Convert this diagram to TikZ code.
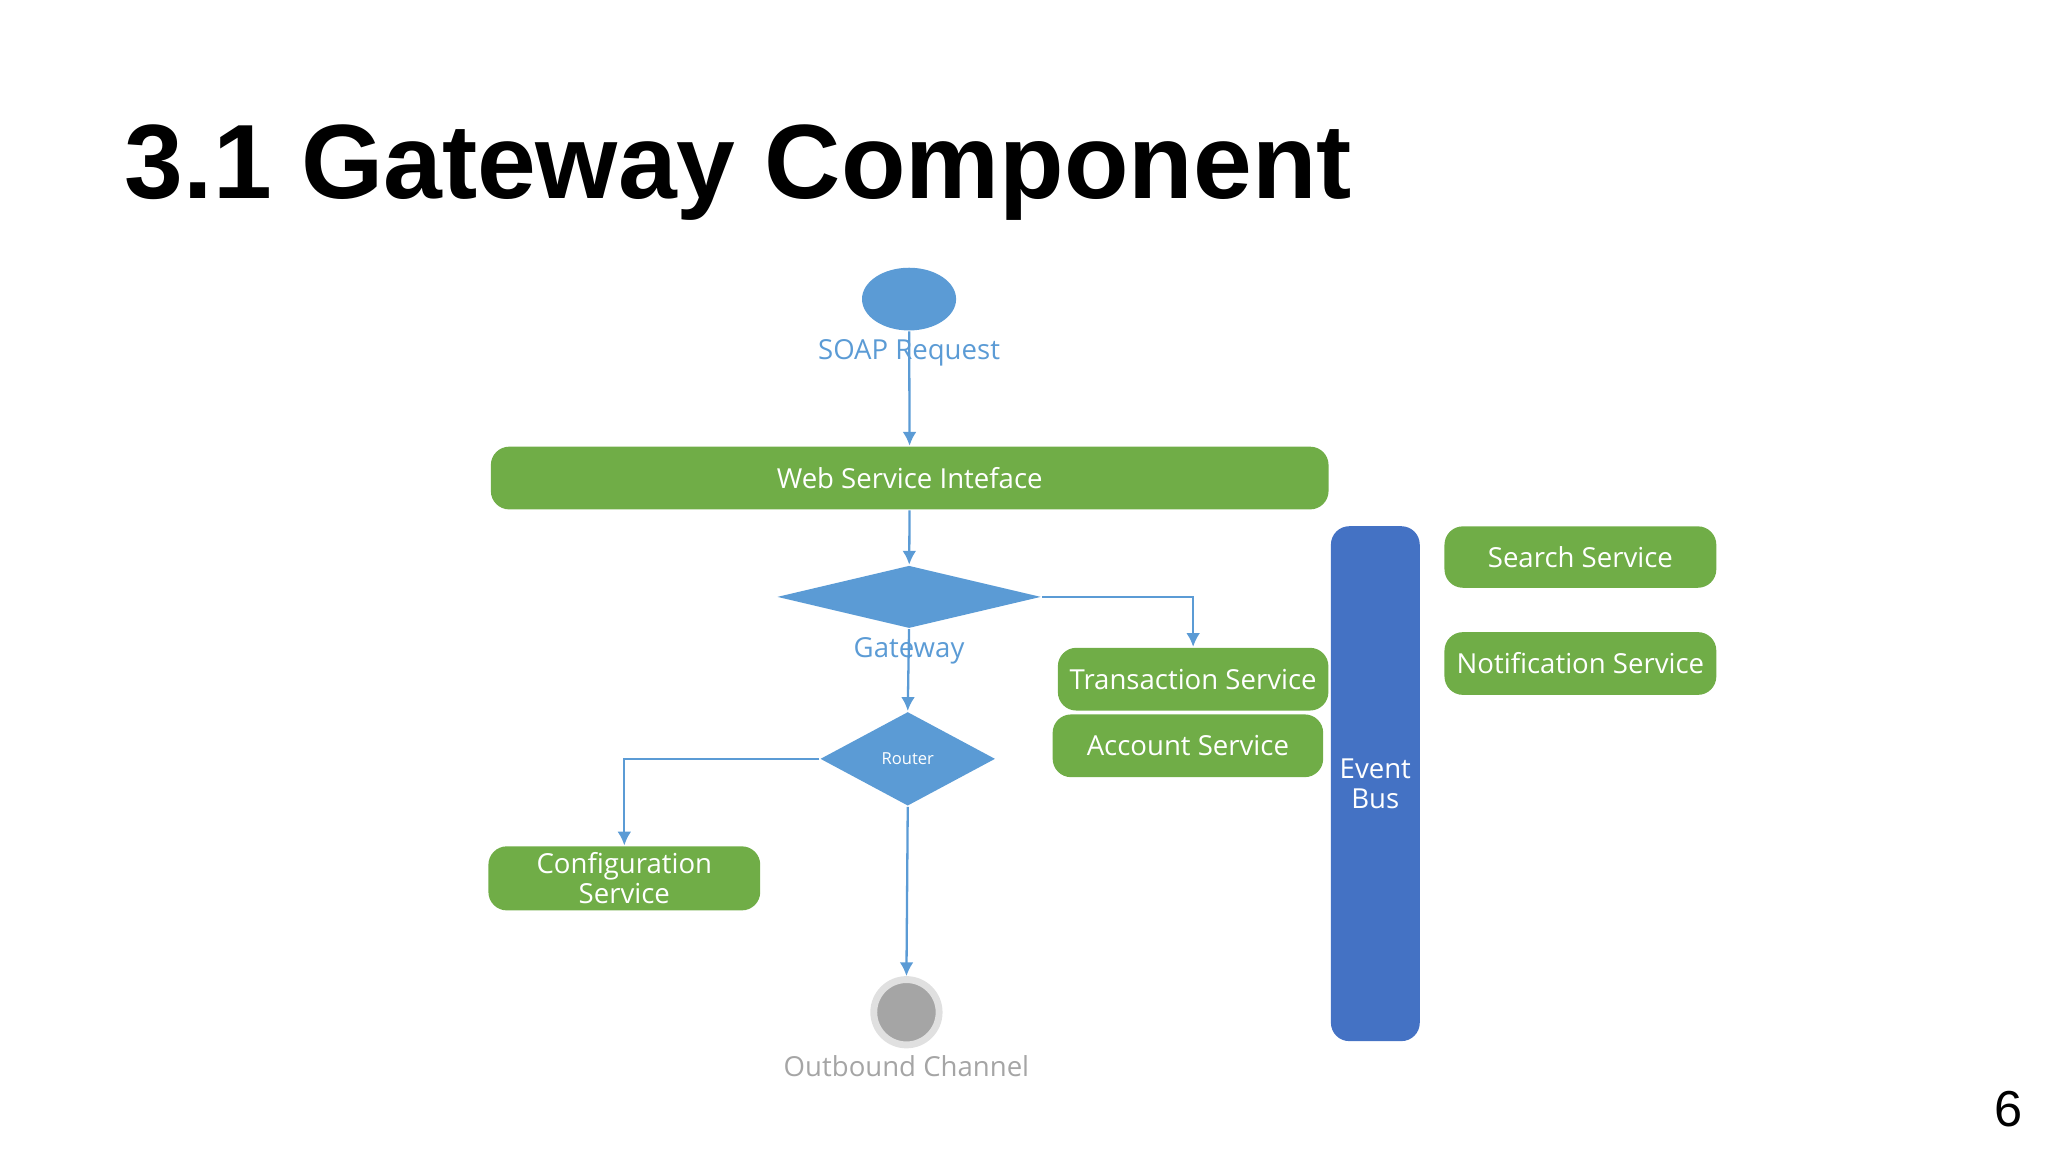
\documentclass[tikz,border=0pt]{standalone}
\usepackage{fontspec}
\setmainfont{Open Sans}
\newfontfamily\titlefont{Liberation Sans}
\usetikzlibrary{shapes.geometric,arrows.meta}
\definecolor{boxgreen}{HTML}{70AD47}
\definecolor{flowblue}{HTML}{5B9BD5}
\definecolor{busblue}{HTML}{4472C4}
\definecolor{endgrey}{HTML}{A5A5A5}
\tikzset{
  service/.style={draw=none,fill=boxgreen,rounded corners=4pt,text=white,
    font=\fontsize{6}{7.5}\selectfont,align=center,inner sep=0pt},
  decision/.style={diamond,draw=none,fill=flowblue,inner sep=0pt},
  flow/.style={draw=flowblue,line width=0.5pt,-{Latex[length=3pt,width=3pt]}},
  caption/.style={font=\fontsize{6}{7.5}\selectfont}
}
\begin{document}
\begin{tikzpicture}[x=0.01cm,y=-0.01cm]
		\useasboundingbox (0,0) rectangle (1568,882);
		% title and page number
		\node[anchor=base west,inner sep=0pt,font=\titlefont\bfseries\fontsize{23}{28}\selectfont] (title) at (95,152) {3.1 Gateway Component};
		\node[font=\titlefont\fontsize{11}{13}\selectfont] (page) at (1538,849) {6};
		
		% start and end
		\node[ellipse,fill=flowblue,minimum width=0.72cm,minimum height=0.48cm,inner sep=0pt] (start) at (696,229) {};
		\node[caption,text=flowblue] (startlbl) at (696,270) {SOAP Request};
		\node[circle,fill=endgrey,draw=black!12,line width=1.5pt,minimum size=0.5cm,inner sep=0pt] (stop) at (694,775) {};
		\node[caption,text=endgrey] (stoplbl) at (694,816) {Outbound Channel};
		
		% services
		\node[service,minimum width=6.41cm,minimum height=0.48cm] (web) at (696.5,366) {Web Service Inteface};
		\node[service,minimum width=2.07cm,minimum height=0.48cm] (trans) at (913.5,520) {Transaction Service};
		\node[service,minimum width=2.07cm,minimum height=0.48cm] (account) at (909.5,571) {Account Service};
		\node[service,minimum width=2.08cm,minimum height=0.49cm] (config) at (478,672.5) {Configuration\\[-1pt]Service};
		\node[service,minimum width=2.08cm,minimum height=0.47cm] (search) at (1210,426.5) {Search Service};
		\node[service,minimum width=2.08cm,minimum height=0.48cm] (notify) at (1210,508) {Notification Service};
		\node[service,fill=busblue,minimum width=0.68cm,minimum height=3.94cm] (bus) at (1053,600) {Event\\[-1pt]Bus};
		
		% decisions
		\node[decision,aspect=4.2,minimum width=2.02cm,minimum height=0.48cm] (gateway) at (696,457) {};
		\node[caption,text=flowblue] (gatelbl) at (696,498) {Gateway};
		\node[decision,aspect=1.86,minimum width=1.34cm,minimum height=0.72cm,text=white,font=\fontsize{3.6}{4}\selectfont] (router) at (695,581) {Router};
		
		% connectors
		\draw[flow] (start) -- (web);
		\draw[flow] (web) -- (gateway);
		\draw[flow] (gateway.east) -| (trans.north);
		\draw[flow] (gateway.south) -- (router.north);
		\draw[flow] (router.west) -| (config.north);
		\draw[flow] (router.south) -- (stop.north);
	\end{tikzpicture}
\end{document}
